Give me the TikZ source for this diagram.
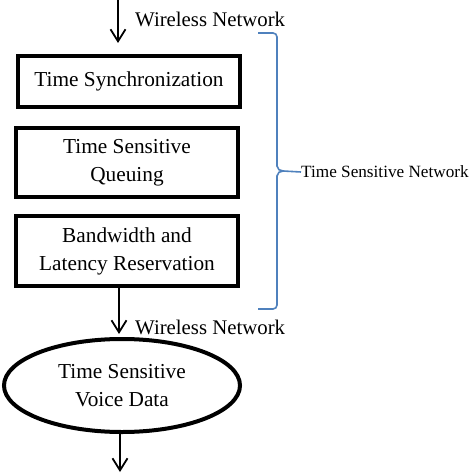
\documentclass[tikz,border=0pt]{standalone}
\usepackage{fontspec}
\setmainfont{Liberation Serif}
\usetikzlibrary{arrows.meta,shapes.geometric}
\definecolor{bracecol}{HTML}{4F81BD}
\begin{document}
\begin{tikzpicture}[x=1bp,y=-1bp,
  stagebox/.style={draw=black, line width=4bp, rectangle, align=center, inner sep=0pt,
    font=\fontsize{21.3bp}{28bp}\selectfont, minimum width=222bp},
  voice/.style={draw=black, line width=4bp, ellipse, align=center, inner sep=0pt,
    font=\fontsize{21.3bp}{28bp}\selectfont, minimum width=236bp, minimum height=93bp},
  arr/.style={draw=black, line width=1.8bp, -{Straight Barb[length=12bp,width=15bp,line width=1.8bp]}},
  lbl/.style={inner sep=0pt, anchor=west, font=\fontsize{20.8bp}{24bp}\selectfont},
  bracelbl/.style={inner sep=0pt, anchor=west, font=\fontsize{17.2bp}{20bp}\selectfont},
  bracepath/.style={draw=bracecol, line width=1.6bp}
]
\useasboundingbox (0,0) rectangle (474,474);
\fill[white] (0,0) rectangle (474,474);

\node[stagebox, minimum height=51bp] (ts) at (129,81.5) {Time Synchronization};
\node[stagebox, minimum height=69bp] (tq) at (127,162.5) {Time Sensitive\\Queuing};
\node[stagebox, minimum height=70bp] (bw) at (127,251) {Bandwidth and\\Latency Reservation};
\node[voice] (vd) at (122,385.5) {Time Sensitive\\Voice Data};

\coordinate (in) at (118,0);
\coordinate (mid) at (119,0);
\coordinate (low) at (120,0);
\coordinate (out) at (120,472);

\draw[arr, shorten >=11bp] (in) -- (in |- ts.north);
\draw[arr, shorten >=3bp] (mid |- bw.south) -- (mid |- vd.north);
\draw[arr] (low |- vd.south) -- (out);

\node[lbl] (wn1) at (135,19) {Wireless Network};
\node[lbl] (wn2) at (135,327) {Wireless Network};

\node[bracelbl] (tsn) at (301,172) {Time Sensitive Network};
\coordinate (btop) at (258,33);
\coordinate (bbot) at (258,309);
\coordinate (btip) at (283,171);
\draw[bracepath] (btop) -- (273,33) to[out=0,in=90] (277,37) -- (277,166)
  to[out=-90,in=180] (btip) to[out=180,in=90] (277,176) -- (277,305)
  to[out=-90,in=0] (273,309) -- (bbot);
\draw[bracepath] (btip) -- (tsn.west);
\end{tikzpicture}
\end{document}
